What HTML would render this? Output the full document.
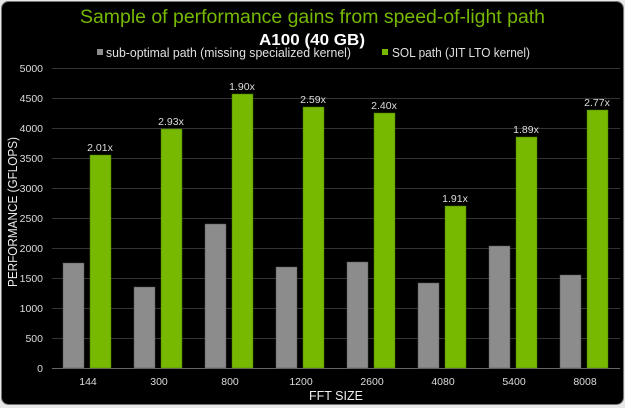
<!DOCTYPE html>
<html><head><meta charset="utf-8"><style>
html,body{margin:0;padding:0;background:#e8e8e8;}
svg{display:block;font-family:"Liberation Sans","DejaVu Sans",sans-serif;}
</style></head><body>
<svg width="625" height="408" viewBox="0 0 625 408" xmlns="http://www.w3.org/2000/svg">
<rect x="0" y="0" width="625" height="408" fill="#e8e8e8"/>
<rect x="1.5" y="1.5" width="622" height="403" rx="7" fill="#000" stroke="#777" stroke-width="1"/>
<text x="80" y="23" fill="#76b900" font-size="19" textLength="465" lengthAdjust="spacingAndGlyphs">Sample of performance gains from speed-of-light path</text>
<text x="259" y="45" fill="#fff" font-size="16" font-weight="bold" textLength="106" lengthAdjust="spacingAndGlyphs">A100 (40 GB)</text>
<rect x="97" y="49" width="6" height="6" fill="#8c8c8c"/>
<text x="106" y="57" fill="#e0e0e0" font-size="12.5" textLength="245" lengthAdjust="spacingAndGlyphs">sub-optimal path (missing specialized kernel)</text>
<rect x="382" y="49" width="6" height="6" fill="#76b900"/>
<text x="392" y="57" fill="#e0e0e0" font-size="12.5" textLength="138" lengthAdjust="spacingAndGlyphs">SOL path (JIT LTO kernel)</text>
<g stroke="#333" stroke-width="1">
<line x1="52" x2="620" y1="68.5" y2="68.5"/><line x1="52" x2="620" y1="98.5" y2="98.5"/>
<line x1="52" x2="620" y1="128.5" y2="128.5"/><line x1="52" x2="620" y1="158.5" y2="158.5"/>
<line x1="52" x2="620" y1="188.5" y2="188.5"/><line x1="52" x2="620" y1="218.5" y2="218.5"/>
<line x1="52" x2="620" y1="248.5" y2="248.5"/><line x1="52" x2="620" y1="278.5" y2="278.5"/>
<line x1="52" x2="620" y1="308.5" y2="308.5"/><line x1="52" x2="620" y1="338.5" y2="338.5"/>
</g>
<line x1="52" x2="620" y1="368.5" y2="368.5" stroke="#666"/>
<g fill="#ddd" font-size="10.5" text-anchor="end">
<text x="43" y="72">5000</text><text x="43" y="102">4500</text><text x="43" y="132">4000</text>
<text x="43" y="162">3500</text><text x="43" y="192">3000</text><text x="43" y="222">2500</text>
<text x="43" y="252">2000</text><text x="43" y="282">1500</text><text x="43" y="312">1000</text>
<text x="43" y="342">500</text><text x="43" y="372">0</text>
</g>
<text transform="translate(17,212) rotate(-90)" fill="#eee" font-size="12.5" text-anchor="middle" textLength="150" lengthAdjust="spacingAndGlyphs">PERFORMANCE (GFLOPS)</text>
<g fill="#8c8c8c" stroke="#555" stroke-width="0.5">
<rect x="63" y="263" width="21" height="105"/>
<rect x="134" y="287" width="21" height="81"/>
<rect x="205" y="224" width="21" height="144"/>
<rect x="276" y="267" width="21" height="101"/>
<rect x="347" y="262" width="21" height="106"/>
<rect x="418" y="283" width="21" height="85"/>
<rect x="489" y="246" width="21" height="122"/>
<rect x="560" y="275" width="21" height="93"/>
</g>
<g fill="#76b900" stroke="#4a7a00" stroke-width="0.5">
<rect x="90" y="155" width="21" height="213"/>
<rect x="161" y="129" width="21" height="239"/>
<rect x="232" y="94" width="21" height="274"/>
<rect x="303" y="107" width="21" height="261"/>
<rect x="374" y="113" width="21" height="255"/>
<rect x="445" y="206" width="21" height="162"/>
<rect x="516" y="137" width="21" height="231"/>
<rect x="587" y="110" width="21" height="258"/>
</g>
<g fill="#ddd" font-size="10.5" text-anchor="middle">
<text x="100" y="151">2.01x</text><text x="171" y="125">2.93x</text><text x="242" y="90">1.90x</text>
<text x="313" y="103">2.59x</text><text x="384" y="109">2.40x</text><text x="455" y="202">1.91x</text>
<text x="526" y="133">1.89x</text><text x="597" y="106">2.77x</text>
</g>
<g fill="#ddd" font-size="10.5" text-anchor="middle">
<text x="88" y="385">144</text><text x="159" y="385">300</text><text x="230" y="385">800</text>
<text x="301" y="385">1200</text><text x="372" y="385">2600</text><text x="443" y="385">4080</text>
<text x="514" y="385">5400</text><text x="585" y="385">8008</text>
</g>
<text x="336" y="400" fill="#eee" font-size="12.5" text-anchor="middle">FFT SIZE</text>
</svg>
</body></html>
